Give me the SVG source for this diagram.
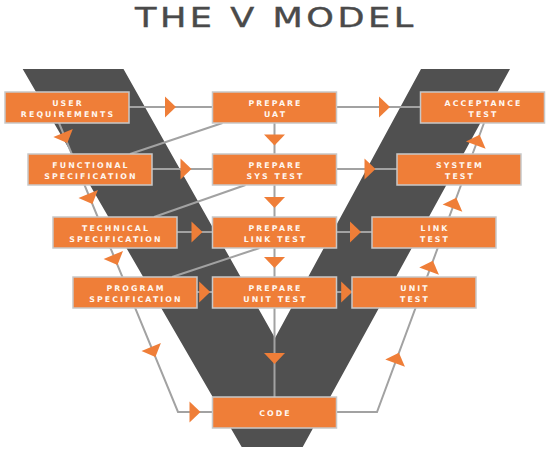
<svg xmlns="http://www.w3.org/2000/svg" xmlns:xlink="http://www.w3.org/1999/xlink" width="550" height="453" viewBox="0 0 550 453">
<style>
.box{fill:#ef7e38;stroke:#c8c8c8;stroke-width:1.5}
.lbl{font-family:'DejaVu Sans','Liberation Sans',sans-serif;font-weight:bold;font-size:7.8px;letter-spacing:2.1px;fill:#fff7f0;text-anchor:middle}
.conn{stroke:#a2a2a2;stroke-width:2;fill:none}
.title{font-family:'DejaVu Sans','Liberation Sans',sans-serif;font-size:27px;fill:#4a4a4a;stroke:#4a4a4a;stroke-width:0.4}
</style>
<defs>
<path id="ah" d="M-5.5,-10.5 L5.5,0 L-5.5,10.5 Z" fill="#ef7e38"/>
</defs>
<rect width="550" height="453" fill="#ffffff"/>
<text class="title" transform="translate(135,27) scale(1.3,1)" x="0" y="0" textLength="214" lengthAdjust="spacing">THE V MODEL</text>
<polygon id="vshape" points="22.7,69 123.5,69 275,338 421,69 510,69 302.7,447 241.7,447" fill="#505050"/>
<g id="connectors">
<line class="conn" x1="129" y1="107" x2="212.5" y2="107"/>
<line class="conn" x1="336.5" y1="107" x2="420.5" y2="107"/>
<line class="conn" x1="152" y1="169" x2="212.5" y2="169"/>
<line class="conn" x1="336.5" y1="169" x2="397" y2="169"/>
<line class="conn" x1="177" y1="232" x2="212.5" y2="232"/>
<line class="conn" x1="336.5" y1="232" x2="372" y2="232"/>
<line class="conn" x1="197" y1="292" x2="212.5" y2="292"/>
<line class="conn" x1="336.5" y1="292" x2="352" y2="292"/>
<line class="conn" x1="274.5" y1="123" x2="274.5" y2="397"/>
<line class="conn" x1="222.5" y1="123" x2="130" y2="154"/>
<line class="conn" x1="245.5" y1="185" x2="154" y2="217"/>
<line class="conn" x1="259.5" y1="248" x2="172" y2="277"/>
<polyline class="conn" points="59,123 178,412 212.5,412"/>
<polyline class="conn" points="336.5,412 377,412 484,123"/>
<use xlink:href="#ah" transform="translate(170.5,107)"/>
<use xlink:href="#ah" transform="translate(384.5,107)"/>
<use xlink:href="#ah" transform="translate(186,169)"/>
<use xlink:href="#ah" transform="translate(370,169)"/>
<use xlink:href="#ah" transform="translate(197,232)"/>
<use xlink:href="#ah" transform="translate(355.5,232)"/>
<use xlink:href="#ah" transform="translate(204.7,292)"/>
<use xlink:href="#ah" transform="translate(346.7,292)"/>
<use xlink:href="#ah" transform="translate(195,412)"/>
<use xlink:href="#ah" transform="translate(274.5,140) rotate(90)"/>
<use xlink:href="#ah" transform="translate(274.5,202.5) rotate(90)"/>
<use xlink:href="#ah" transform="translate(274.5,262.5) rotate(90)"/>
<use xlink:href="#ah" transform="translate(274.5,358.5) rotate(90)"/>
<use xlink:href="#ah" transform="translate(65.2,138) rotate(67.6)"/>
<use xlink:href="#ah" transform="translate(90.3,199) rotate(67.6)"/>
<use xlink:href="#ah" transform="translate(115.4,260) rotate(67.6)"/>
<use xlink:href="#ah" transform="translate(153.3,352) rotate(67.6)"/>
<use xlink:href="#ah" transform="translate(397,358) rotate(-69.7)"/>
<use xlink:href="#ah" transform="translate(431,266) rotate(-69.7)"/>
<use xlink:href="#ah" transform="translate(454.4,203) rotate(-69.7)"/>
<use xlink:href="#ah" transform="translate(477.7,140) rotate(-69.7)"/>
</g>
<g id="user-requirements"><rect class="box" x="5" y="92" width="124" height="31"/><text class="lbl" x="68" y="106">USER</text><text class="lbl" x="68" y="116.5">REQUIREMENTS</text></g>
<g id="prepare-uat"><rect class="box" x="212.5" y="92" width="124" height="31"/><text class="lbl" x="275.5" y="106">PREPARE</text><text class="lbl" x="275.5" y="116.5">UAT</text></g>
<g id="acceptance-test"><rect class="box" x="420.5" y="92" width="124" height="31"/><text class="lbl" x="483.5" y="106">ACCEPTANCE</text><text class="lbl" x="483.5" y="116.5">TEST</text></g>
<g id="functional-specification"><rect class="box" x="28" y="154" width="124" height="31"/><text class="lbl" x="91" y="168">FUNCTIONAL</text><text class="lbl" x="91" y="178.5">SPECIFICATION</text></g>
<g id="prepare-sys-test"><rect class="box" x="212.5" y="154" width="124" height="31"/><text class="lbl" x="275.5" y="168">PREPARE</text><text class="lbl" x="275.5" y="178.5">SYS TEST</text></g>
<g id="system-test"><rect class="box" x="397" y="154" width="124" height="31"/><text class="lbl" x="460" y="168">SYSTEM</text><text class="lbl" x="460" y="178.5">TEST</text></g>
<g id="technical-specification"><rect class="box" x="53" y="217" width="124" height="31"/><text class="lbl" x="116" y="231">TECHNICAL</text><text class="lbl" x="116" y="241.5">SPECIFICATION</text></g>
<g id="prepare-link-test"><rect class="box" x="212.5" y="217" width="124" height="31"/><text class="lbl" x="275.5" y="231">PREPARE</text><text class="lbl" x="275.5" y="241.5">LINK TEST</text></g>
<g id="link-test"><rect class="box" x="372" y="217" width="124" height="31"/><text class="lbl" x="435" y="231">LINK</text><text class="lbl" x="435" y="241.5">TEST</text></g>
<g id="program-specification"><rect class="box" x="73" y="277" width="124" height="31"/><text class="lbl" x="136" y="291">PROGRAM</text><text class="lbl" x="136" y="301.5">SPECIFICATION</text></g>
<g id="prepare-unit-test"><rect class="box" x="212.5" y="277" width="124" height="31"/><text class="lbl" x="275.5" y="291">PREPARE</text><text class="lbl" x="275.5" y="301.5">UNIT TEST</text></g>
<g id="unit-test"><rect class="box" x="352" y="277" width="124" height="31"/><text class="lbl" x="415" y="291">UNIT</text><text class="lbl" x="415" y="301.5">TEST</text></g>
<g id="code"><rect class="box" x="212.5" y="397" width="124" height="31"/><text class="lbl" x="275.5" y="415.5">CODE</text></g>
</svg>
